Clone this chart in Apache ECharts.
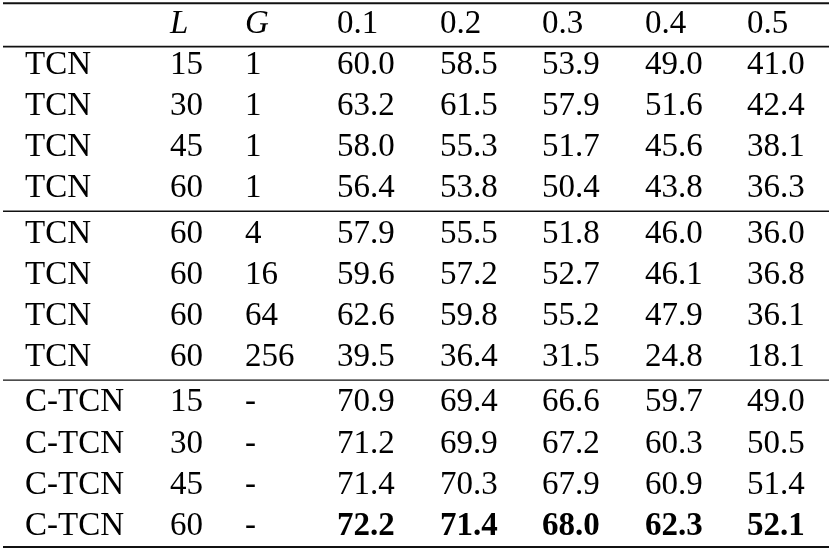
<!DOCTYPE html>
<html>
<head>
<meta charset="utf-8">
<script src="https://cdn.jsdelivr.net/npm/echarts@6/dist/echarts.min.js"></script>
<style>html,body{margin:0;padding:0;background:#fff}#c{width:832px;height:551px}</style>
</head>
<body>
<div id="c"></div>
<script>
// ---------- data ----------
const headers = ['', 'L', 'G', '0.1', '0.2', '0.3', '0.4', '0.5'];
const models  = ['TCN','TCN','TCN','TCN','TCN','TCN','TCN','TCN','C-TCN','C-TCN','C-TCN','C-TCN'];
const lengths = ['15','30','45','60','60','60','60','60','15','30','45','60'];
const gValues = ['1','1','1','1','4','16','64','256','-','-','-','-'];
const col01 = [60.0, 63.2, 58.0, 56.4, 57.9, 59.6, 62.6, 39.5, 70.9, 71.2, 71.4, 72.2];
const col02 = [58.5, 61.5, 55.3, 53.8, 55.5, 57.2, 59.8, 36.4, 69.4, 69.9, 70.3, 71.4];
const col03 = [53.9, 57.9, 51.7, 50.4, 51.8, 52.7, 55.2, 31.5, 66.6, 67.2, 67.9, 68.0];
const col04 = [49.0, 51.6, 45.6, 43.8, 46.0, 46.1, 47.9, 24.8, 59.7, 60.3, 60.9, 62.3];
const col05 = [41.0, 42.4, 38.1, 36.3, 36.0, 36.8, 36.1, 18.1, 49.0, 50.5, 51.4, 52.1];
const groupSizes = [4, 4, 4];

// ---------- layout / style ----------
const colLeft = [25, 170, 245, 337, 440, 542, 645, 747];
const italicHeader = [false, true, true, false, false, false, false, false];
const GROUP_GAP = 0.1;         // extra spacing at a group rule (row units)
const FONT_SIZE = 33;
const FONT_FAMILY = '"Liberation Serif","Times New Roman",serif';
const RULE_X0 = 3, RULE_X1 = 829;

const valueCols = [col01, col02, col03, col04, col05];
const best = valueCols.map(c => Math.max.apply(null, c));

const rowGroup = [];
groupSizes.forEach((n, g) => { for (let i = 0; i < n; i++) rowGroup.push(g); });
const rowPos = rowGroup.map((g, i) => i + 1 + g * GROUP_GAP);

// cells
const cellData = [], cellText = [], cellItalic = [], cellBold = [];
headers.forEach((h, c) => {
  cellData.push([colLeft[c], 0]); cellText.push(h); cellItalic.push(italicHeader[c]); cellBold.push(false);
});
models.forEach((m, r) => {
  const rowVals = [m, lengths[r], gValues[r]].concat(valueCols.map(col => col[r].toFixed(1)));
  rowVals.forEach((t, c) => {
    cellData.push([colLeft[c], rowPos[r]]);
    cellText.push(t);
    cellItalic.push(false);
    cellBold.push(c >= 3 && valueCols[c - 3][r] === best[c - 3]);
  });
});

// rules: [position, width]
const rules = [[-0.5, 2], [0.55, 1.8]];
let acc = 0;
groupSizes.forEach((n, g) => {
  acc += n;
  if (g < groupSizes.length - 1) rules.push([(rowPos[acc - 1] + rowPos[acc]) / 2, 1.4]);
});
rules.push([rowPos[rowPos.length - 1] + 0.5, 2]);

const chart = echarts.init(document.getElementById('c'), null, { renderer: 'canvas' });
chart.setOption({
  animation: false,
  backgroundColor: '#ffffff',
  grid: { left: 0, right: 0, top: 0, bottom: 0 },
  xAxis: { type: 'value', min: 0, max: 832, show: false },
  yAxis: { type: 'value', min: -0.58, max: 12.8, inverse: true, show: false },
  series: [
    {
      type: 'custom',
      data: rules,
      renderItem: function (params, api) {
        const p = api.value(0);
        const a = api.coord([RULE_X0, p]);
        const b = api.coord([RULE_X1, p]);
        return {
          type: 'line',
          shape: { x1: a[0], y1: a[1], x2: b[0], y2: b[1] },
          style: { stroke: '#111', lineWidth: api.value(1) }
        };
      }
    },
    {
      type: 'custom',
      data: cellData,
      renderItem: function (params, api) {
        const i = params.dataIndex;
        const pt = api.coord([api.value(0), api.value(1)]);
        return {
          type: 'text',
          x: pt[0], y: pt[1],
          style: {
            text: cellText[i],
            fill: '#000',
            fontSize: FONT_SIZE,
            fontFamily: FONT_FAMILY,
            fontStyle: cellItalic[i] ? 'italic' : 'normal',
            fontWeight: cellBold[i] ? 'bold' : 'normal',
            align: 'left',
            verticalAlign: 'middle'
          }
        };
      }
    }
  ]
});
</script>
</body>
</html>
